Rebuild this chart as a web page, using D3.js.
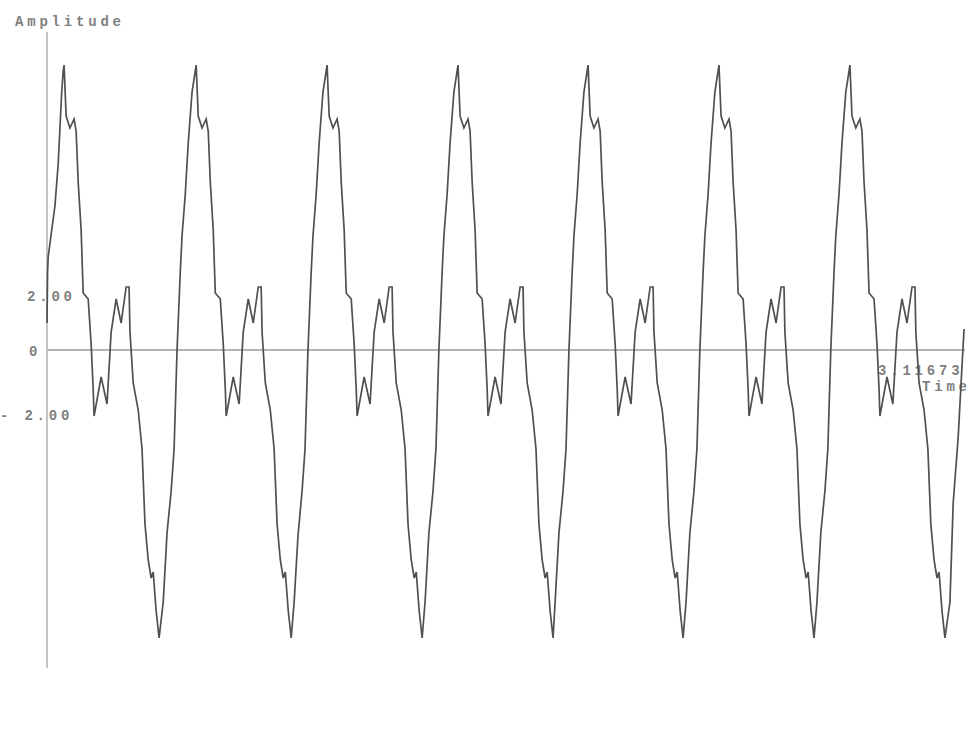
<!DOCTYPE html>
<html>
<head>
<meta charset="utf-8">
<script src="https://cdn.jsdelivr.net/npm/d3@7"></script>
<style>
  html, body { margin: 0; padding: 0; background: #ffffff; }
  svg { display: block; }
  text { font-family: "Liberation Mono", "DejaVu Sans Mono", monospace; }
</style>
</head>
<body>
<script>
// ---- data ----
const yAxisTitle = "Amplitude";
const xAxisTitle = "Time";
const xEndLabel = "3.11673";
const xDomain = [0, 3.11673];
const yDomain = [-10.6, 10.6];
const yTickValues = [2, 0, -2];
const yTickLabels = ["2.00", "0", "- 2.00"];

const timeValues = [
  // cycle 1
  0.000,0.002,0.004,0.016,0.027,0.038,0.050,0.055,0.058,
  0.065,0.078,0.092,0.099,0.106,0.116,0.123,0.140,0.150,0.157,0.160,0.184,0.204,0.218,0.235,0.252,0.269,0.279,0.282,0.293,0.310,0.323,0.333,0.344,0.354,0.361,0.371,0.381,
  // cycle 2
  0.395,0.408,0.422,0.432,0.442,0.453,0.459,0.470,0.480,0.493,0.504,0.507,0.514,0.527,0.541,0.548,0.555,0.565,0.572,0.589,0.599,0.606,0.609,0.633,0.653,0.667,0.684,0.701,0.718,0.728,0.731,0.742,0.759,0.772,0.782,0.793,0.803,0.810,0.820,0.830,
  // cycle 3
  0.840,0.853,0.867,0.877,0.887,0.898,0.904,0.915,0.925,0.938,0.949,0.952,0.959,0.972,0.986,0.993,1.000,1.010,1.017,1.034,1.044,1.051,1.054,1.078,1.098,1.112,1.129,1.146,1.163,1.173,1.176,1.187,1.204,1.217,1.227,1.238,1.248,1.255,1.265,1.275,
  // cycle 4
  1.285,1.298,1.312,1.322,1.332,1.343,1.349,1.360,1.370,1.383,1.394,1.397,1.404,1.417,1.431,1.438,1.445,1.455,1.462,1.479,1.489,1.496,1.499,1.523,1.543,1.557,1.574,1.591,1.608,1.618,1.621,1.632,1.649,1.662,1.672,1.683,1.693,1.700,1.710,1.720,
  // cycle 5
  1.727,1.740,1.754,1.764,1.774,1.785,1.791,1.802,1.812,1.825,1.836,1.839,1.846,1.859,1.873,1.880,1.887,1.897,1.904,1.921,1.931,1.938,1.941,1.965,1.985,1.999,2.016,2.033,2.050,2.060,2.063,2.074,2.091,2.104,2.114,2.125,2.135,2.142,2.152,2.162,
  // cycle 6
  2.172,2.185,2.199,2.209,2.219,2.230,2.236,2.247,2.257,2.270,2.281,2.284,2.291,2.304,2.318,2.325,2.332,2.342,2.349,2.366,2.376,2.383,2.386,2.410,2.430,2.444,2.461,2.478,2.495,2.505,2.508,2.519,2.536,2.549,2.559,2.570,2.580,2.587,2.597,2.607,
  // cycle 7
  2.617,2.630,2.644,2.654,2.664,2.675,2.681,2.692,2.702,2.715,2.726,2.729,2.736,2.749,2.763,2.770,2.777,2.787,2.794,2.811,2.821,2.828,2.831,2.855,2.875,2.889,2.906,2.923,2.940,2.950,2.953,2.964,2.981,2.994,3.004,3.015,3.025,3.032,3.042,3.052,
  // tail
  3.069,3.080,3.097,3.109,3.117
];

const amplitudeValues = [
  // cycle 1
  0.9,2.6,3.1,4.0,4.8,6.2,8.6,9.3,9.5,
  7.8,7.4,7.7,7.3,5.6,4.0,1.9,1.7,0.2,-1.3,-2.2,-0.9,-1.8,0.6,1.7,0.9,2.1,2.1,0.6,-1.1,-2.0,-3.3,-5.8,-7.0,-7.6,-7.4,-8.7,-9.6,
  // cycle 2
  -8.4,-6.1,-4.7,-3.3,0.0,2.6,3.8,5.2,6.9,8.6,9.3,9.5,7.8,7.4,7.7,7.3,5.6,4.0,1.9,1.7,0.2,-1.3,-2.2,-0.9,-1.8,0.6,1.7,0.9,2.1,2.1,0.6,-1.1,-2.0,-3.3,-5.8,-7.0,-7.6,-7.4,-8.7,-9.6,
  // cycle 3
  -8.4,-6.2,-4.7,-3.3,0.0,2.6,3.8,5.2,6.9,8.6,9.3,9.5,7.8,7.4,7.7,7.3,5.6,4.0,1.9,1.7,0.2,-1.3,-2.2,-0.9,-1.8,0.6,1.7,0.9,2.1,2.1,0.6,-1.1,-2.0,-3.3,-5.8,-7.0,-7.6,-7.4,-8.7,-9.6,
  // cycle 4
  -8.4,-6.1,-4.7,-3.3,0.0,2.6,3.8,5.2,6.9,8.6,9.3,9.5,7.8,7.4,7.7,7.3,5.6,4.0,1.9,1.7,0.2,-1.3,-2.2,-0.9,-1.8,0.6,1.7,0.9,2.1,2.1,0.6,-1.1,-2.0,-3.3,-5.8,-7.0,-7.6,-7.4,-8.7,-9.6,
  // cycle 5
  -8.4,-6.1,-4.7,-3.3,0.0,2.6,3.8,5.2,6.9,8.6,9.3,9.5,7.8,7.4,7.7,7.3,5.6,4.0,1.9,1.7,0.2,-1.3,-2.2,-0.9,-1.8,0.6,1.7,0.9,2.1,2.1,0.6,-1.1,-2.0,-3.3,-5.8,-7.0,-7.6,-7.4,-8.7,-9.6,
  // cycle 6
  -8.4,-6.1,-4.7,-3.3,0.0,2.6,3.8,5.2,6.9,8.6,9.3,9.5,7.8,7.4,7.7,7.3,5.6,4.0,1.9,1.7,0.2,-1.3,-2.2,-0.9,-1.8,0.6,1.7,0.9,2.1,2.1,0.6,-1.1,-2.0,-3.3,-5.8,-7.0,-7.6,-7.4,-8.7,-9.6,
  // cycle 7
  -8.4,-6.1,-4.7,-3.3,0.0,2.6,3.8,5.2,6.9,8.6,9.3,9.5,7.8,7.4,7.7,7.3,5.6,4.0,1.9,1.7,0.2,-1.3,-2.2,-0.9,-1.8,0.6,1.7,0.9,2.1,2.1,0.6,-1.1,-2.0,-3.3,-5.8,-7.0,-7.6,-7.4,-8.7,-9.6,
  // tail
  -8.4,-5.1,-2.9,-0.7,0.7
];

// ---- drawing ----
const W = 980, H = 736;
const plotLeft = 47, plotRight = 964, plotTop = 32, plotBottom = 668;

const svg = d3.select("body").append("svg")
  .attr("width", W).attr("height", H)
  .attr("viewBox", `0 0 ${W} ${H}`);

const x = d3.scaleLinear().domain(xDomain).range([plotLeft, plotRight]);
const y = d3.scaleLinear().domain(yDomain).range([plotBottom, plotTop]);

const axisColor = "#b4b4b4";
const textColor = "#808080";

// vertical (amplitude) axis
svg.append("line")
  .attr("x1", x(0)).attr("x2", x(0))
  .attr("y1", y(yDomain[1])).attr("y2", y(yDomain[0]))
  .attr("stroke", axisColor).attr("stroke-width", 1.6);

// zero (time) axis
svg.append("line")
  .attr("x1", x(0)).attr("x2", x(xDomain[1]) + 1)
  .attr("y1", y(0)).attr("y2", y(0))
  .attr("stroke", axisColor).attr("stroke-width", 2);

const textStyle = sel => sel
  .attr("fill", textColor)
  .attr("font-size", 14)
  .attr("font-weight", "bold")
  .style("letter-spacing", "3.8px");

// y tick labels
const tickLayout = { "2.00": { x: 27, dy: 11 }, "0": { x: 29, dy: 6 }, "- 2.00": { x: 0, dy: 10 } };
svg.append("g").selectAll("text")
  .data(yTickValues)
  .join("text")
  .attr("x", (d, i) => tickLayout[yTickLabels[i]].x)
  .attr("y", (d, i) => y(d) + tickLayout[yTickLabels[i]].dy)
  .text((d, i) => yTickLabels[i])
  .call(textStyle);

// axis titles
svg.append("text").attr("x", 15).attr("y", 26).text(yAxisTitle).call(textStyle);
svg.append("text").attr("x", x(xDomain[1]) - 86).attr("y", y(0) + 25).text(xEndLabel).call(textStyle);
svg.append("text").attr("x", x(xDomain[1]) - 42).attr("y", y(0) + 41).text(xAxisTitle).call(textStyle);

// waveform
const pts = timeValues.map((t, i) => [t, amplitudeValues[i]]);
const line = d3.line().x(d => x(d[0])).y(d => y(d[1]));
svg.append("path")
  .datum(pts)
  .attr("fill", "none")
  .attr("stroke", "#505050")
  .attr("stroke-width", 1.7)
  .attr("stroke-linejoin", "miter")
  .attr("d", line);
</script>
</body>
</html>
